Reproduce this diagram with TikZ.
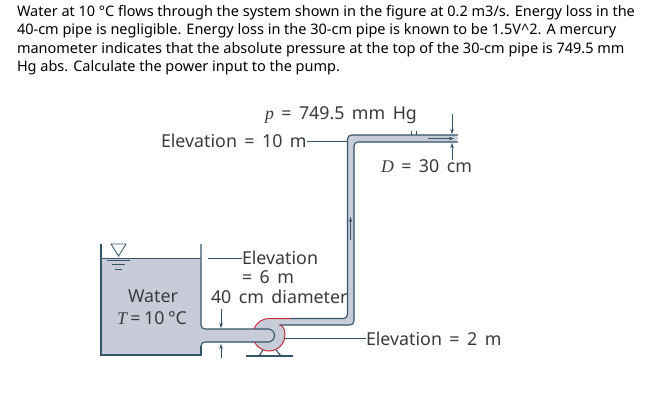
\documentclass[tikz,border=0pt]{standalone}
\usepackage{fontspec}
\usepackage{xcolor}
\setmainfont{Noto Sans}
\newfontfamily\serifit{Liberation Serif}
\usetikzlibrary{positioning,arrows.meta}
\definecolor{mywater}{RGB}{200,204,216}
\definecolor{mywall}{RGB}{52,84,104}
\definecolor{myred}{RGB}{196,44,60}
\definecolor{mytext}{RGB}{58,58,62}
\newcommand\varit[1]{{\serifit\itshape #1}}
\begin{document}
\begin{tikzpicture}[x=1pt,y=-1pt,node distance=3pt,outer sep=0pt,inner sep=0pt,
            wall/.style={draw=mywall,line width=1.1pt},
            lead/.style={draw=mywall,line width=0.8pt},
            casing/.style={draw=myred,line width=1pt},
            dimarrow/.style={draw=mywall,line width=0.6pt,-{Stealth[length=5pt,width=3.5pt]}},
            lab/.style={font={\fontsize{17.8}{20}\selectfont\spaceskip=.42em\relax},text=mytext,anchor=base west},
            para/.style={font={\fontsize{14.5}{18}\selectfont},text=black,anchor=base west},
        ]
        \useasboundingbox (0,0) rectangle (653,412);

        \node[para] (LineA) at (17,17) {Water at 10 °C flows through the system shown in the figure at 0.2 m3/s. Energy loss in the};
        \node[para] (LineB) at (17,35) {40-cm pipe is negligible. Energy loss in the 30-cm pipe is known to be 1.5V\^{}2. A mercury};
        \node[para] (LineC) at (17,53) {manometer indicates that the absolute pressure at the top of the 30-cm pipe is 749.5 mm};
        \node[para] (LineD) at (17,71) {Hg abs. Calculate the power input to the pump.};

        % water in tank, pump and pipes
        \fill[mywater,rounded corners=4pt] (101,258) -- (201,258) -- (201,329) -- (270,329)
            -- (270,342) -- (201,342) -- (201,355) -- (101,355) -- cycle;
        \fill[mywater] (269,335) circle[radius=16];
        \fill[mywater,rounded corners=4pt] (272,318.5) -- (347.5,318.5) -- (347.5,135) -- (458,135)
            -- (458,142) -- (354,142) -- (354,325) -- (272,325) -- cycle;

        % tank and suction pipe
        \draw[wall] (101,244) -- (101,355) -- (201,355) -- (201,346);
        \draw[wall,rounded corners=4pt] (201,355) -- (201,342) -- (268,342);
        \draw[wall,rounded corners=4pt] (201,244) -- (201,329) -- (268,329);
        \draw[wall] (268,342) arc[start angle=90,end angle=-90,radius=6.5];
        \draw[lead] (101,258) -- (201,258);
        % discharge pipe
        \draw[wall,rounded corners=4pt] (290,318.5) -- (347.5,318.5) -- (347.5,135) -- (458,135);
        \draw[wall,rounded corners=4pt] (280,325) -- (354,325) -- (354,142) -- (458,142);
        % pump casing
        \draw[casing] (291,318.5) -- (269,318.5) arc[start angle=-90,end angle=-158,radius=16];
        \draw[casing] (254.6,342) arc[start angle=154,end angle=0,radius=16]
            .. controls (285,329) and (283,325) .. (279,325);
        % pump base
        \draw[wall] (246,356) -- (293,356);
        \draw[wall] (259,356) -- (263,350) (281,356) -- (276,350);

        % free surface symbol
        \coordinate (SurfL) at (111,244);
        \coordinate (SurfR) at (126,244);
        \coordinate (SurfT) at (118.5,256);
        \draw[lead] (SurfL) -- (SurfR) -- (SurfT) -- cycle;
        \draw[lead] (107,260) -- (130,260) (112,264) -- (125,264) (115,269) -- (122,269);

        % labels
        \node[lab] (PLab) at (265,119) {\varit{p} = 749.5 mm Hg};
        \node[lab] (ElevTen) at (161,147) {Elevation = 10 m};
        \node[lab] (DLab) at (381,172) {\varit{D} = 30 cm};
        \node[lab] (ElevSix) at (242,264) {Elevation};
        \node[lab] (EqSix) at (242,283) {= 6 m};
        \node[lab] (DiaLab) at (211,303) {40 cm diameter};
        \node[lab] (WaterLab) at (128,302) {Water};
        \node[lab] (TempLab) at (117,324) {\spaceskip=.2em\relax\varit{T} = 10 °C};
        \node[lab] (ElevTwo) at (366,345) {Elevation = 2 m};

        % leaders
        \coordinate (TopCorner) at (348,141.5);
        \coordinate (SurfEnd) at (208,258);
        \coordinate (PumpEnd) at (285,338);
        \draw[lead] (ElevTen.base east |- TopCorner) -- (TopCorner);
        \draw[lead] (ElevSix.base west |- SurfEnd) -- (SurfEnd);
        \draw[lead] (ElevTwo.base west |- PumpEnd) -- (PumpEnd);

        % dimension and flow arrows
        \coordinate (DTopA) at (452,114);
        \coordinate (DTopB) at (452,134);
        \coordinate (DBotA) at (452,160);
        \coordinate (DBotB) at (452,143);
        \coordinate (SuctA) at (221,309);
        \coordinate (SuctB) at (221,328);
        \coordinate (SuctC) at (221,358);
        \coordinate (SuctD) at (221,344);
        \coordinate (FlowA) at (428,138.5);
        \coordinate (FlowB) at (454,138.5);
        \coordinate (RiseA) at (350.5,240);
        \coordinate (RiseB) at (350.5,217);
        \draw[dimarrow] (DTopA) -- (DTopB);
        \draw[dimarrow] (DBotA) -- (DBotB);
        \draw[dimarrow] (SuctA) -- (SuctB);
        \draw[dimarrow] (SuctC) -- (SuctD);
        \draw[dimarrow] (FlowA) -- (FlowB);
        \draw[dimarrow] (RiseA) -- (RiseB);
        \draw[lead] (411,130.5) -- (411,135) (416,130.5) -- (416,135);
\end{tikzpicture}
\end{document}
